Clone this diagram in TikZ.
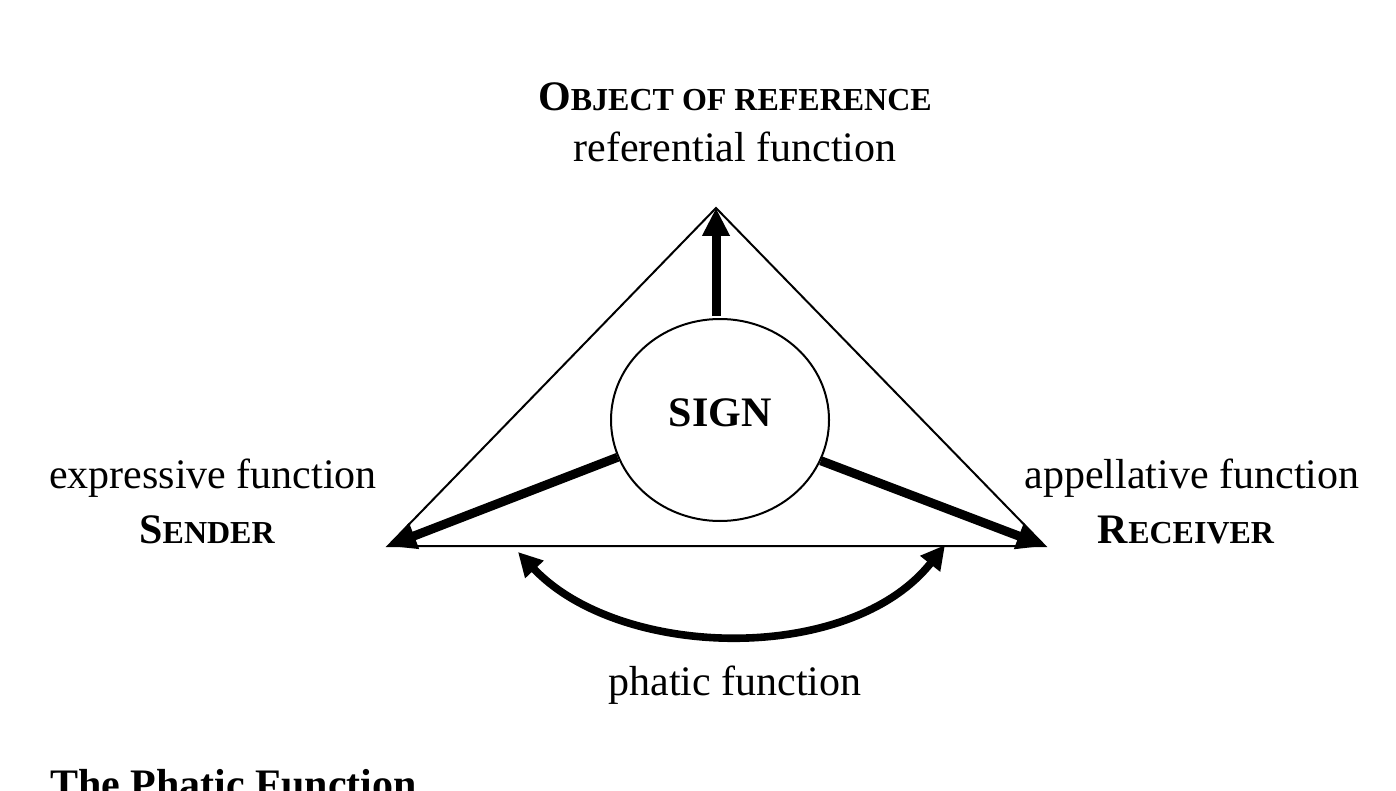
\documentclass[tikz,border=0pt]{standalone}
\usepackage{fontspec}
\setmainfont{Liberation Serif}
\usetikzlibrary{arrows.meta,shapes.geometric}
\begin{document}
\begin{tikzpicture}[x=0.5pt,y=-0.5pt,
  lbl/.style={font=\fontsize{21}{24}\selectfont,inner sep=0pt},
  blbl/.style={font=\fontsize{21}{24}\selectfont\bfseries,inner sep=0pt},
  fat/.style={line width=4.5pt,-{Triangle[length=14pt,width=13pt]}}]
\newcommand{\smc}[1]{{\fontsize{16}{18}\selectfont #1}}
\clip (0,0) rectangle (1396,791);
\fill[white] (0,0) rectangle (1396,791);
\coordinate (T) at (716,208);
\coordinate (L) at (388,546);
\coordinate (R) at (1045,546);
\draw[line width=1pt] (T) -- (L) -- (R) -- cycle;
\node[draw,line width=1pt,ellipse,minimum width=109pt,minimum height=101pt,inner sep=0pt] (S) at (720,420) {};
\node[blbl] at (720,413) {SIGN};
\coordinate (St) at (716,316);
\draw[fat] (St) -- (T);
\draw[fat] (S.200) -- (L);
\draw[fat] (S.-22) -- (R);
\coordinate (pa) at (518,552);
\coordinate (pb) at (945,545);
\draw[line width=3.8pt,{Triangle[length=12pt,width=12pt]}-{Triangle[length=12pt,width=12pt]}] (pa) .. controls (620,660) and (850,665) .. (pb);
\node[blbl] at (735,97) {O\smc{BJECT OF REFERENCE}};
\node[lbl] at (735,147) {referential function};
\node[lbl] at (213,478) {expressive function};
\node[blbl] at (207,530) {S\smc{ENDER}};
\node[lbl] at (1192,478) {appellative function};
\node[blbl] at (1186,530) {R\smc{ECEIVER}};
\node[lbl] at (735,685) {phatic function};
\node[blbl,anchor=base west,font=\fontsize{21}{24}\selectfont\bfseries] at (50,798) {The Phatic Function};
\end{tikzpicture}
\end{document}
